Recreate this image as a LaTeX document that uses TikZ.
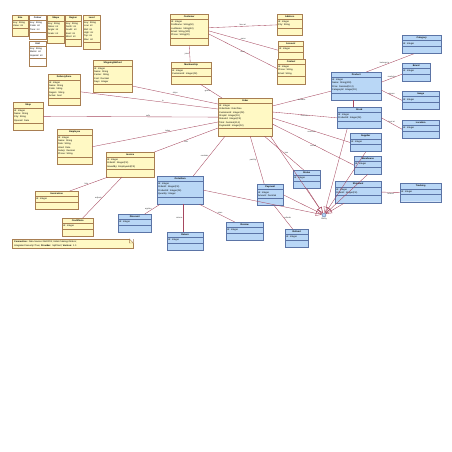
\documentclass[tikz,border=0pt]{standalone}
\usepackage{fontspec}
\setmainfont{Liberation Sans}
\usepackage{tikz}
\usetikzlibrary{shapes,shapes.multipart}
\usetikzlibrary{arrows}
\usetikzlibrary{positioning}
\definecolor{nenvang}{HTML}{FFF9C4}
\definecolor{vienvang}{HTML}{A87E52}
\definecolor{nenxanh}{HTML}{B9D7F6}
\definecolor{vienxanh}{HTML}{5B74A6}
\definecolor{daynoi}{HTML}{A6475F}
\newcommand{\chu}{\fontsize{2.3}{3.3}\selectfont}
\newcommand{\tenlop}[1]{\hfill\textbf{#1}\hfill\null}
\newcommand{\khoang}{\rule{0pt}{4pt}}

\begin{document}
\begin{tikzpicture}[x=1pt,y=-1pt,
	lop/.style={rectangle split, rectangle split parts=3, draw=vienvang, fill=nenvang, anchor=north west, font=\chu, inner xsep=1pt, inner ysep=1.5pt, align=left, line width=0.4pt},
	lopxanh/.style={lop, draw=vienxanh, fill=nenxanh},
	loptrang/.style={lop, fill=white},
	noi/.style={draw=daynoi, line width=0.35pt},
	thuchien/.style={noi, -open triangle 45},
	nhan/.style={font=\fontsize{2}{2.4}\selectfont, text=black!80, inner sep=0.6pt}]
			\fill[white] (0,0) rectangle (452,452);
			\useasboundingbox (0,0) rectangle (452,452);

			\node[lop, text width=14pt] (kichco) at (12,15) {\tenlop{Size}\nodepart{two}Key: String\\Value: int\nodepart{three}\khoang};
			\node[loptrang, text width=15pt] (mau) at (29,15) {\tenlop{Colour}\nodepart{two}Key: String\\Code: int\\Tone: int\nodepart{three}\khoang};
			\node[lop, text width=15pt] (hinh) at (47,15) {\tenlop{Shape}\nodepart{two}Key: String\\Sides: int\\Angle: int\\Scale: int\nodepart{three}\khoang};
			\node[lop, text width=14pt] (vung) at (65,15) {\tenlop{Region}\nodepart{two}Key: String\\North: int\\South: int\\East: int\\West: int\nodepart{three}\khoang};
			\node[lop, text width=15pt] (muc) at (83,15) {\tenlop{Level}\nodepart{two}Key: String\\Low: int\\Mid: int\\High: int\\Top: int\\Max: int\nodepart{three}\khoang};
			\node[loptrang, text width=15pt] (donvi) at (29,41) {\tenlop{Unit}\nodepart{two}Key: String\\Metric: int\\Imperial: int\nodepart{three}\khoang};

			\node[lop, text width=36pt] (khachhang) at (170,14) {\tenlop{Customer}\nodepart{two}Id: Integer\\FirstName: String(50)\\LastName: String(50)\\Email: String(100)\\Phone: String(20)\nodepart{three}\khoang};
			\node[lop, text width=23pt] (diachi) at (277,14) {\tenlop{Address}\nodepart{two}Id: Integer\\City: String\nodepart{three}\khoang};
			\node[lop, text width=23pt] (taikhoan) at (278,41) {\tenlop{Account}\nodepart{two}Id: Integer\nodepart{three}\khoang};
			\node[lop, text width=26pt] (lienhe) at (277,59) {\tenlop{Contact}\nodepart{two}Id: Integer\\Phone: String\\Email: String\nodepart{three}\khoang};
			\node[lop, text width=38pt] (thanhvien) at (171,62) {\tenlop{Membership}\nodepart{two}Id: Integer\\CustomerId: Integer(FK)\nodepart{three}\khoang};
			\node[lop, text width=52pt] (donhang) at (218,98) {\tenlop{Order}\nodepart{two}Id: Integer\\OrderDate: DateTime\\CustomerId: Integer(FK)\\ShopId: Integer(FK)\\StatusId: Integer(FK)\\Total: Decimal(10,2)\\PaymentId: Integer(FK)\nodepart{three}\khoang};
			\node[lop, text width=37pt] (vanchuyen) at (93,60) {\tenlop{ShippingMethod}\nodepart{two}Id: Integer\\Name: String\\Carrier: String\\Cost: Decimal\\Days: Integer\nodepart{three}\khoang};
			\node[lop, text width=30pt] (khuvuc) at (48,74) {\tenlop{DeliveryZone}\nodepart{two}Id: Integer\\Name: String\\Code: String\\Region: String\\Active: bool\nodepart{three}\khoang};
			\node[lop, text width=28pt] (cuahang) at (13,102) {\tenlop{Shop}\nodepart{two}Id: Integer\\Name: String\\City: String\\Opened: Date\nodepart{three}\khoang};
			\node[lop, text width=33pt] (nhanvien) at (57,129) {\tenlop{Employee}\nodepart{two}Id: Integer\\Name: String\\Role: String\\Hired: Date\\Salary: Decimal\\Phone: String\nodepart{three}\khoang};
			\node[lop, text width=46pt] (hoadon) at (106,152) {\tenlop{Invoice}\nodepart{two}Id: Integer\\OrderId: Integer(FK)\\IssuedBy: EmployeeId(FK)\nodepart{three}\khoang};
			\node[lop, text width=41pt] (dong) at (35,191) {\tenlop{InvoiceLine}\nodepart{two}Id: Integer\nodepart{three}\khoang};
			\node[lop, text width=29pt] (phieuchi) at (62,218) {\tenlop{CreditNote}\nodepart{two}Id: Integer\nodepart{three}\khoang};

			\node[lopxanh, text width=44pt] (chitiet) at (157,176) {\tenlop{OrderItem}\nodepart{two}Id: Integer\\OrderId: Integer(FK)\\ProductId: Integer(FK)\\Quantity: Integer\nodepart{three}\khoang};
			\node[lopxanh, text width=31pt] (giamgia) at (118,214) {\tenlop{Discount}\nodepart{two}Id: Integer\nodepart{three}\khoang};
			\node[lopxanh, text width=34pt] (trahang) at (167,232) {\tenlop{Return}\nodepart{two}Id: Integer\nodepart{three}\khoang};
			\node[lopxanh, text width=35pt] (danhgia) at (226,222) {\tenlop{Review}\nodepart{two}Id: Integer\nodepart{three}\khoang};
			\node[lopxanh, text width=24pt] (thanhtoan) at (257,184) {\tenlop{Payment}\nodepart{two}Id: Integer\\Amount: Decimal\nodepart{three}\khoang};
			\node[lopxanh, text width=21pt] (hoantien) at (285,229) {\tenlop{Refund}\nodepart{two}Id: Integer\nodepart{three}\khoang};
			\node[lopxanh, text width=25pt] (trangthai) at (293,170) {\tenlop{Status}\nodepart{two}Id: Integer\nodepart{three}\khoang};
			\node[lopxanh, text width=48pt] (sanpham) at (331,72) {\tenlop{Product}\nodepart{two}Id: Integer\\Name: String(100)\\Price: Decimal(10,2)\\CategoryId: Integer(FK)\nodepart{three}\khoang};
			\node[lopxanh, text width=42pt] (tonkho) at (337,107) {\tenlop{Stock}\nodepart{two}Id: Integer\\ProductId: Integer(FK)\nodepart{three}\khoang};
			\node[lopxanh, text width=29pt] (nhacungcap) at (350,133) {\tenlop{Supplier}\nodepart{two}Id: Integer\nodepart{three}\khoang};
			\node[lopxanh, text width=25pt] (khohang) at (354,156) {\tenlop{Warehouse}\nodepart{two}Id: Integer\nodepart{three}\khoang};
			\node[lopxanh, text width=44pt] (giaohang) at (335,181) {\tenlop{Shipment}\nodepart{two}Id: Integer\\OrderId: Integer(FK)\nodepart{three}\khoang};
			\node[lopxanh, text width=39pt] (theodoi) at (400,183) {\tenlop{Tracking}\nodepart{two}Id: Integer\nodepart{three}\khoang};
			\node[lopxanh, text width=37pt] (danhmuc) at (402,35) {\tenlop{Category}\nodepart{two}Id: Integer\nodepart{three}\khoang};
			\node[lopxanh, text width=26pt] (thuonghieu) at (402,63) {\tenlop{Brand}\nodepart{two}Id: Integer\nodepart{three}\khoang};
			\node[lopxanh, text width=35pt] (hinhanh) at (402,91) {\tenlop{Image}\nodepart{two}Id: Integer\nodepart{three}\khoang};
			\node[lopxanh, text width=35pt] (vitri) at (402,120) {\tenlop{Location}\nodepart{two}Id: Integer\nodepart{three}\khoang};

			\node[circle, draw=vienxanh, fill=nenxanh, minimum size=4pt, inner sep=0pt, line width=0.4pt] (giaodien) at (324,215) {};
			\node[nhan, below=0.3pt of giaodien] (tengd) {IEntity};

			\node[draw=vienvang, fill=nenvang, anchor=north west, font=\chu, align=left, text width=117pt, inner sep=2pt] (ghichu) at (12,239) {\textbf{Connection:} Data Source=SHOP01; Initial Catalog=Orders;\\Integrated Security=True; \textbf{Provider:} SqlClient; \textbf{Version:} 1.0};
			\fill[white] ([xshift=-4pt]ghichu.north east) -- (ghichu.north east) -- ([yshift=-4pt]ghichu.north east) -- cycle;
			\draw[vienvang, fill=nenvang, line width=0.4pt] ([xshift=-4pt]ghichu.north east) -- ([yshift=-4pt]ghichu.north east) -- ([xshift=-4pt,yshift=-4pt]ghichu.north east) -- cycle;

			\draw[noi] ([yshift=2pt]khachhang.east) -- node[nhan,above]{lives at} (diachi.west);
			\draw[noi] ([yshift=-1pt]khachhang.east) -- node[nhan,above]{owns} (taikhoan.west);
			\draw[noi] ([yshift=-4pt]khachhang.east) -- node[nhan,below]{uses} ([yshift=3pt]lienhe.west);
			\draw[noi] (khachhang.south) -- node[nhan,left]{joins} ([xshift=-1pt]thanhvien.north);
			\draw[noi] ([xshift=9pt]thanhvien.south) -- node[nhan,left]{grants} ([xshift=4pt]donhang.north west);
			\draw[noi] ([yshift=-10pt]vanchuyen.east) -- node[nhan,above]{ships} ([yshift=-6pt]donhang.north west);
			\draw[noi] ([yshift=-2pt]khuvuc.east) -- node[nhan,above,pos=0.6]{to} ([yshift=-11pt]donhang.north west);
			\draw[noi] (cuahang.east) -- node[nhan,above,pos=0.6]{sells} (donhang.west);
			\draw[noi] (nhanvien.east) -- node[nhan,above,pos=0.6]{takes} ([yshift=-24pt]donhang.north west);
			\draw[noi] (hoadon.north east) -- node[nhan,below]{bills} ([yshift=-30pt]donhang.north west);
			\draw[noi] ([xshift=13pt]dong.north) -- node[nhan,left]{lists} ([xshift=2pt]hoadon.south west);
			\draw[noi] ([xshift=5pt]phieuchi.north) -- node[nhan,left]{adjusts} ([xshift=16pt]hoadon.south west);
			\draw[noi] ([xshift=7pt]donhang.south west) -- node[nhan,left]{contains} ([xshift=13pt]chitiet.north);
			\draw[noi] ([xshift=5pt]donhang.south) -- node[nhan,left]{paid by} ([xshift=-6pt]thanhtoan.north);
			\draw[noi] ([xshift=-8pt]donhang.south east) -- node[nhan,right]{has} ([xshift=-3pt]trangthai.north);
			\draw[noi] ([yshift=-8pt]donhang.north east) -- node[nhan,below]{includes} ([yshift=-5pt]sanpham.west);
			\draw[noi] ([yshift=-14pt]donhang.north east) -- node[nhan,below]{reserves} (tonkho.west);
			\draw[noi] ([yshift=-20pt]donhang.north east) -- node[nhan,below]{sourced} (nhacungcap.west);
			\draw[noi] ([yshift=-26pt]donhang.north east) -- node[nhan,below]{stored} (khohang.west);
			\draw[noi] ([xshift=10pt]sanpham.north) -- node[nhan,left]{belongs to} ([xshift=-8pt]danhmuc.south);
			\draw[noi] ([yshift=4pt]sanpham.east) -- node[nhan,above]{made by} ([yshift=-2pt]thuonghieu.west);
			\draw[noi] ([yshift=-4pt]sanpham.east) -- node[nhan,above]{shows} (hinhanh.west);
			\draw[noi] ([xshift=-3pt]sanpham.south) -- ([xshift=-6pt]tonkho.north);
			\draw[noi] (tonkho.east) -- node[nhan,above]{kept at} (vitri.west);
			\draw[noi] (theodoi.west) -- node[nhan,below]{follows} (giaohang.east);
			\draw[noi] ([xshift=10pt]giamgia.north) -- node[nhan,left]{applies} ([xshift=3pt]chitiet.south west);
			\draw[noi] ([xshift=-2pt]trahang.north) -- node[nhan,left]{returns} ([xshift=3pt]chitiet.south);
			\draw[noi] ([xshift=-10pt]danhgia.north) -- node[nhan,right]{rates} ([xshift=-4pt]chitiet.south east);
			\draw[noi] ([xshift=-4pt]hoantien.north) -- node[nhan,right]{refunds} ([xshift=4pt]thanhtoan.south);

			\draw[thuchien] (chitiet.east) -- (giaodien);
			\draw[thuchien] (thanhtoan.east) -- (giaodien);
			\draw[thuchien] ([xshift=-2pt]donhang.south east) -- (giaodien);
			\draw[thuchien] (trangthai.south) -- (giaodien);
			\draw[thuchien] ([xshift=-12pt]tonkho.south) -- (giaodien);
			\draw[thuchien] (nhacungcap.south) -- (giaodien);
			\draw[thuchien] (khohang.south) -- (giaodien);
			\draw[thuchien] ([xshift=-14pt]giaohang.south) -- (giaodien);
		\end{tikzpicture}
\end{document}
